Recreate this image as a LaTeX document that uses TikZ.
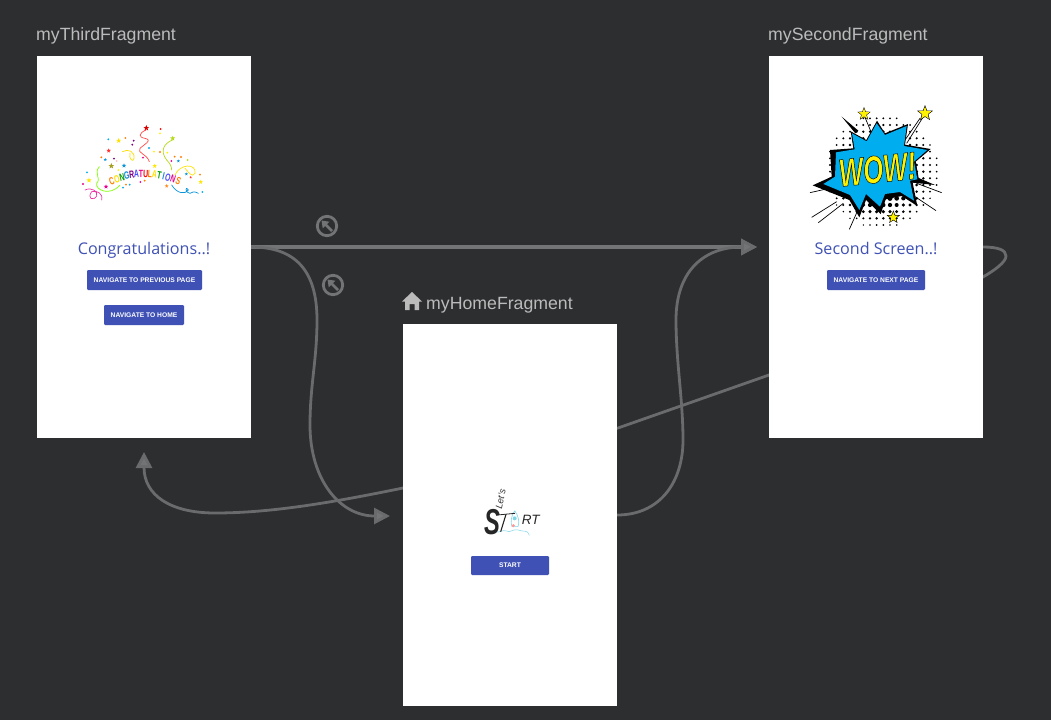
\documentclass[tikz,border=0pt]{standalone}
\usepackage{fontspec}
\setmainfont{Liberation Sans}
\newfontfamily\scrfont{Open Sans}
\newfontfamily\narrowfont{Liberation Sans}[FakeStretch=0.66]
\usetikzlibrary{arrows.meta,backgrounds,calc}
\definecolor{canvas}{HTML}{2D2E30}
\definecolor{wire}{HTML}{6A6B6C}
\definecolor{wirelight}{HTML}{737475}
\definecolor{caption}{HTML}{BBBBBB}
\definecolor{indigo}{HTML}{3F51B5}
\definecolor{comicblue}{HTML}{00AEEF}
\definecolor{comicyellow}{HTML}{FFF200}
\definecolor{rocketcyan}{HTML}{7FD6E8}
\newcommand{\cstar}[4]{\fill[#3] (#1,#2) +(-90:#4) -- +(-54:#4*0.42) -- +(-18:#4) -- +(18:#4*0.42) -- +(54:#4) -- +(90:#4*0.42) -- +(126:#4) -- +(162:#4*0.42) -- +(198:#4) -- +(234:#4*0.42) -- cycle;}
\tikzset{
  x=1pt,y=-1pt,
  card/.style={fill=white,draw=none,minimum width=214pt,minimum height=382pt,inner sep=0pt,outer sep=0pt},
  caplabel/.style={text=caption,font=\fontsize{17.7}{20}\selectfont,anchor=base west,inner sep=0pt},
  headline/.style={text=indigo,font=\scrfont\fontsize{16.1}{18}\selectfont,inner sep=0pt,anchor=base},
  navbtn/.style={fill=indigo,text=white,rounded corners=1.2pt,inner sep=0pt,minimum height=20pt,font=\bfseries\fontsize{6.7}{8}\selectfont},
  flow/.style={draw=wire,line width=2.8pt,line cap=round},
  tip/.style={-{Triangle[length=16pt,width=16pt,fill=wirelight]}},
  action/.style={draw=wirelight,line width=2.8pt,fill=none},
  glyph/.style={font=\narrowfont\bfseries\fontsize{10.5}{11}\selectfont,inner sep=0pt},
  streamer/.style={line width=0.7pt,line cap=round},
}
\begin{document}
\begin{tikzpicture}
\useasboundingbox (0,0) rectangle (1051,720);
\begin{scope}[on background layer]
\fill[canvas] (0,0) rectangle (1051,720);
\end{scope}

% cards
\node[card] (third) at (144,247) {};
\node[card] (second) at (876,247) {};
\node[card] (home) at (510,515) {};

% captions
\node[caplabel] (thirdcap) at (36,40) {myThirdFragment};
\node[caplabel] (secondcap) at (768,40) {mySecondFragment};
\node[caplabel] (homecap) at (426,309) {myHomeFragment};
\fill[caption] (412,292) -- (422,301.5) -- (419,301.5) -- (419,310) -- (414.5,310) -- (414.5,304) -- (409.5,304) -- (409.5,310) -- (405,310) -- (405,301.5) -- (402,301.5) -- cycle;

% connector end points
\coordinate (tipsecond) at ($(second.west)+(-12,0)$);
\coordinate (tiphome) at ($(home.west)+(-13,1)$);
\coordinate (tipthird) at ($(third.south)+(0,14)$);

\begin{scope}[on background layer]
\draw[flow,tip,line width=3.2pt,draw=wirelight] (third.east) -- (tipsecond);
\draw[flow,tip] (third.east) .. controls (295,247) and (317,270) .. (317,320)
   .. controls (317,360) and (310,385) .. (310,425)
   .. controls (310,480) and (340,516) .. (tiphome);
\draw[flow,tip] (home.east) .. controls (660,515) and (683,482) .. (683,440)
   .. controls (683,400) and (676,362) .. (676,320)
   .. controls (676,270) and (705,247) .. (tipsecond);
\draw[flow,tip] (second.east) .. controls (998,247) and (1006,250) .. (1006,256)
   .. controls (1006,262) and (995,270) .. (983,277)
   -- (769,375) -- (618,428) -- (403,488)
   .. controls (330,503) and (270,513) .. (215,513)
   .. controls (170,513) and (144,495) .. (tipthird);
\end{scope}

% action icons
\draw[action] (327,226) circle (9.7);
\draw[action,line width=2.6pt,-{Triangle[length=6.5pt,width=9pt,fill=wirelight]}] (332,231) -- (321.5,220.5);
\draw[action] (333,285) circle (9.7);
\draw[action,line width=2.6pt,-{Triangle[length=6.5pt,width=9pt,fill=wirelight]}] (338,290) -- (327.5,279.5);

% screen texts and buttons
\node[headline] (t1) at (144,254) {Congratulations..!};
\node[navbtn,minimum width=115pt] (b1) at (144.5,280) {NAVIGATE TO PREVIOUS PAGE};
\node[navbtn,minimum width=80pt] (b2) at (144,315) {NAVIGATE TO HOME};
\node[headline] (t2) at (876,254) {Second Screen..!};
\node[navbtn,minimum width=98pt] (b3) at (876,280) {NAVIGATE TO NEXT PAGE};
\node[navbtn,minimum width=78pt,minimum height=19pt] (b4) at (510,565.5) {START};

% ---------- confetti picture
\begin{scope}[shift={(60,110)},scale=1/3]
\draw[streamer,draw=red!60!pink] (258,60) .. controls (235,70) and (235,82) .. (255,85) .. controls (280,90) and (250,105) .. (240,115) .. controls (230,130) and (260,130) .. (268,155);
\draw[streamer,draw=yellow!80!orange] (187,125) .. controls (205,115) and (225,125) .. (222,145) .. controls (220,160) and (205,145) .. (210,130);
\draw[streamer,draw=yellow!70!green] (338,90) .. controls (310,100) and (300,125) .. (320,150) .. controls (330,160) and (335,170) .. (335,180);
\draw[streamer,draw=yellow!85!orange] (345,195) .. controls (360,160) and (410,160) .. (405,190) .. controls (395,205) and (385,185) .. (375,175);
\draw[streamer,draw=green!50!yellow] (118,170) .. controls (100,190) and (125,205) .. (110,220) .. controls (105,240) and (150,260) .. (180,225);
\draw[streamer,draw=magenta!80] (75,240) .. controls (95,230) and (115,245) .. (110,258) .. controls (100,275) and (80,265) .. (95,245) .. controls (110,240) and (130,250) .. (125,270);
\draw[streamer,draw=cyan!80!blue] (335,225) .. controls (350,250) and (375,255) .. (385,240) .. controls (375,225) and (375,250) .. (390,250) .. controls (400,250) and (395,240) .. (415,250);
\cstar{259}{54}{red!85!black}{9}
\cstar{176}{92}{yellow!85!orange}{8}
\cstar{338}{85}{yellow!70!green}{8}
\cstar{146}{122}{red!80}{7}
\cstar{154}{168}{olive!80}{9}
\cstar{87}{211}{yellow!90!orange}{8}
\cstar{192}{167}{cyan!80!blue}{7}
\cstar{284}{168}{yellow!90!orange}{7}
\cstar{138}{230}{magenta}{7}
\cstar{422}{216}{yellow!90!orange}{7}
\cstar{320}{228}{orange!90}{6}
\cstar{136}{149}{cyan!80!blue}{5}
\cstar{355}{153}{cyan!80!blue}{5}
\cstar{379}{192}{cyan!80!blue}{5}
\cstar{392}{202}{red!80}{4}
\foreach \px/\py/\pc in {145/88/cyan,221/92/violet,217/104/violet,162/146/violet,124/142/orange,249/143/magenta,267/114/cyan,282/125/yellow,300/126/orange,344/140/orange,334/153/magenta,69/222/magenta,81/187/cyan,241/216/magenta,254/212/orange,189/233/cyan,209/224/cyan,198/224/orange,420/194/orange,427/246/cyan,302/57/red,300/70/yellow,196/84/orange,175/180/yellow,383/150/yellow!70!green,363/141/orange,170/153/pink,322/128/yellow}
  {\fill[\pc] (\px,\py) circle (3.2);}
\foreach \ch/\gx/\gy/\gr/\gc in {C/155/214/20/orange,O/171/207/17/yellow!85!orange,N/186/202/12/green!60!black,G/200/197/9/cyan!70!blue,R/215/194/6/violet,A/229/192/3/blue!70,T/243/191/0/magenta,U/257/192/-2/red,L/270/193/-4/orange,A/284/194/-7/yellow!85!orange,T/298/197/-10/green!60!black,I/311/199/-13/cyan!70!blue,O/324/202/-15/blue!70,N/339/206/-18/magenta,S/355/212/-22/orange}
  {\node[glyph,text=\gc,rotate=\gr] at (\gx,\gy) {\ch};}
\end{scope}

% ---------- comic burst picture
\begin{scope}[shift={(790,90)},scale=1/3]
\foreach \gx in {120,140,...,440}{
  \foreach \gy in {85,105,...,410}{
    \pgfmathsetmacro{\dd}{veclen(\gx-275,\gy-245)}
    \pgfmathsetmacro{\rr}{\gy>310 ? 8.5-(\dd-70)/16 : 5.2-(\dd-80)/38}
    \ifdim\dd pt<170pt \ifdim\rr pt>0.8pt
      \fill[black] (\gx,\gy) circle (\rr);
    \fi\fi
  }
}
\fill[black] (155,80) -- (205,122) -- (196,130) -- cycle;
\draw[line width=0.7pt] (222,75) -- (245,130);
\draw[line width=0.7pt] (405,72) -- (350,160);
\draw[line width=0.7pt] (390,85) -- (345,150);
\draw[line width=0.7pt] (60,308) -- (140,290);
\draw[line width=0.7pt] (65,382) -- (140,335);
\draw[line width=0.7pt] (85,398) -- (160,340);
\draw[line width=0.7pt] (178,418) -- (228,305);
\draw[line width=0.7pt] (455,308) -- (380,280);
\draw[line width=0.7pt] (438,362) -- (375,320);
\fill[black] (120,180) -- (190,175) -- (182,124) -- (229,150) -- (261,92) -- (285,130) -- (354,102) -- (345,164) -- (422,177) -- (377,215) -- (386,264) -- (435,285) -- (368,278) -- (382,348) -- (335,318) -- (287,328) -- (272,372) -- (228,330) -- (208,382) -- (178,330) -- (68,286) -- (125,260) -- cycle;
\fill[comicblue] (138,187) -- (194,178) -- (186,130) -- (230,154) -- (260,100) -- (285,135) -- (350,108) -- (342,168) -- (412,180) -- (372,215) -- (382,268) -- (360,272) -- (372,332) -- (330,306) -- (285,312) -- (270,350) -- (228,312) -- (208,360) -- (180,315) -- (100,282) -- (135,260) -- cycle;
\cstar{222}{72}{black}{21}
\cstar{222}{72}{comicyellow}{17}
\cstar{405}{70}{black}{25}
\cstar{405}{70}{comicyellow}{20}
\cstar{310}{382}{black}{21}
\cstar{310}{382}{comicyellow}{16}
\node[inner sep=0pt,rotate=6,text=comicyellow] (wow) at (262,238)
  {\special{pdf:literal direct 2 Tr 0.45 w 0 0 0 RG}\narrowfont\bfseries\itshape\fontsize{39}{39}\selectfont WOW!\special{pdf:literal direct 0 Tr}};
\end{scope}

% ---------- let's start picture
\begin{scope}[shift={(460,480)},scale=1/3]
\draw[rocketcyan,line width=0.5pt] (105,155) .. controls (120,160) and (125,148) .. (140,153) .. controls (150,160) and (160,145) .. (175,150) .. controls (190,158) and (200,145) .. (208,166);
\draw[rocketcyan,line width=0.6pt] (164,92) .. controls (155,105) and (150,125) .. (156,140) -- (174,140) .. controls (180,125) and (174,105) .. (164,92);
\fill[rocketcyan] (164,115) circle (6);
\fill[red!40] (160,137) circle (5);
\node[text=black!80,inner sep=0pt,rotate=78,font=\itshape\fontsize{9.5}{10}\selectfont] (lets) at (122,58) {Let's};
\node[text=black!85,inner sep=0pt,font=\narrowfont\bfseries\itshape\fontsize{36}{36}\selectfont] (bigS) at (97,127) {S};
\draw[black!85,line width=0.8pt] (112,105) -- (165,100);
\draw[black!85,line width=1.1pt] (138,103) -- (122,155);
\node[text=black!85,inner sep=0pt,font=\itshape\fontsize{13.5}{14}\selectfont] (art) at (212,119) {RT};
\end{scope}
\end{tikzpicture}
\end{document}
